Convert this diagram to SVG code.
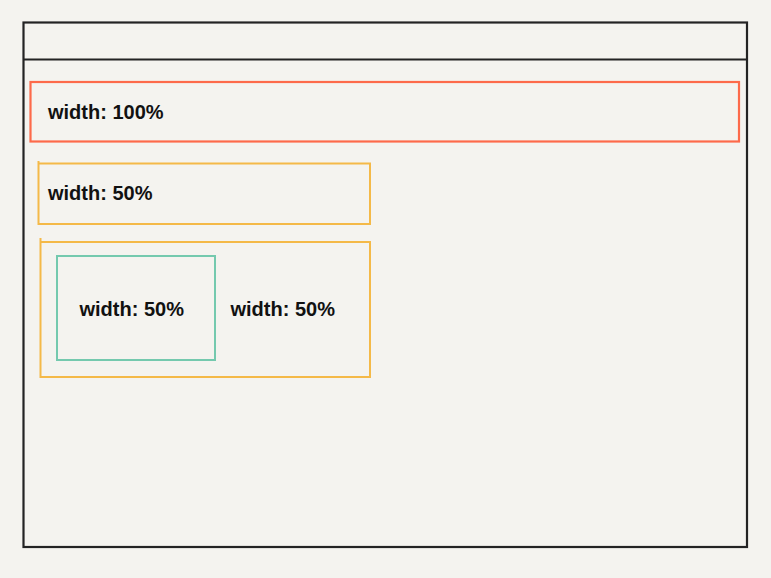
<svg xmlns="http://www.w3.org/2000/svg" width="771" height="578" viewBox="0 0 771 578">
<style>
.frame{fill:none;stroke:#232323;stroke-width:2.2}
.red{fill:none;stroke:#fd6a4a;stroke-width:2.2}
.yel{fill:none;stroke:#f4b948;stroke-width:2}
.grn{fill:none;stroke:#74c9ae;stroke-width:2}
.lbl{font-family:"Liberation Sans",Arial,sans-serif;font-weight:bold;font-size:20px;fill:#111}
</style>
<rect width="771" height="578" fill="#f4f3ef"/>
<g id="window">
<rect class="frame" x="23.5" y="22.5" width="723.5" height="524.5"/>
<line class="frame" x1="23.5" y1="59.5" x2="747" y2="59.5"/>
</g>
<g id="full">
<rect class="red" x="30.5" y="82" width="708.5" height="59.5"/>
<text class="lbl" x="48" y="119">width: 100%</text>
</g>
<g id="half">
<path class="yel" d="M38.5 161 V224 H370 V163.5 H38.5"/>
<text class="lbl" x="48" y="200">width: 50%</text>
</g>
<g id="container">
<path class="yel" d="M40.5 238 V377 H370 V242 H40.5"/>
<text class="lbl" x="230.5" y="316">width: 50%</text>
</g>
<g id="inner">
<rect class="grn" x="57" y="256" width="158" height="104"/>
<text class="lbl" x="79.5" y="316">width: 50%</text>
</g>
<g id="connectors"/>
</svg>
